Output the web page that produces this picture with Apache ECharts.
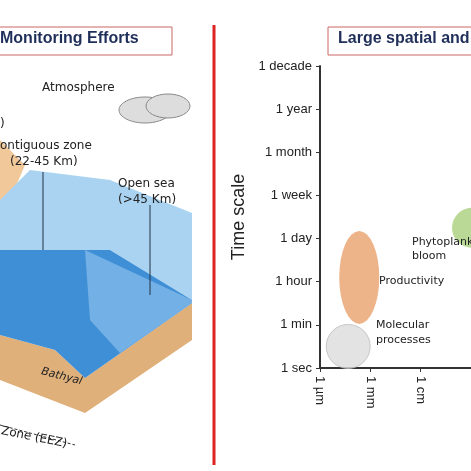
<!DOCTYPE html><html><head><meta charset="utf-8">
<script src="https://cdn.jsdelivr.net/npm/echarts@6/dist/echarts.min.js"></script>
<style>html,body{margin:0;padding:0;background:#fff}#c{width:471px;height:471px}</style></head><body><div id="c"></div>
<script>
const timeLabels = ['1 sec','1 min','1 hour','1 day','1 week','1 month','1 year','1 decade'];
const spaceLabels = ['1 µm','1 mm','1 cm',''];
const processNames = ['Molecular processes','Productivity','Phytoplankton bloom'];
const processX = [0.56, 0.78, 3.02];
const processY = [0.5, 2.1, 3.25];
const processColors = ['#dcdcdc','#e9a06c','#a9cf7d'];
const chart = echarts.init(document.getElementById('c'));
const hand = 'DejaVu Sans';
const T = (l,t,s,f,extra)=>Object.assign({type:'text',left:l,top:t,z:10,style:Object.assign({text:s,font:f,fill:'#222'},extra||{})});
chart.setOption({
  animation:false,
  grid:{left:320,top:66,width:154.5,height:302},
  xAxis:{type:'value',min:0,max:3,interval:1,
    axisLine:{show:true,lineStyle:{color:'#333',width:2}},axisTick:{show:true,length:4,lineStyle:{color:'#333'}},
    splitLine:{show:false},
    axisLabel:{rotate:-90,margin:8,color:'#222',fontSize:13,fontFamily:'Liberation Sans',formatter:v=>spaceLabels[v]||''}},
  yAxis:{type:'value',min:0,max:7,interval:1,name:'Time scale',nameLocation:'middle',nameGap:72,
    nameTextStyle:{fontSize:18,color:'#222',fontFamily:'Liberation Sans'},
    axisLine:{show:true,lineStyle:{color:'#333',width:2}},axisTick:{show:true,length:4,lineStyle:{color:'#333'}},
    splitLine:{show:false},
    axisLabel:{color:'#222',fontSize:13,fontFamily:'Liberation Sans',margin:8,formatter:v=>timeLabels[v]}},
  series:[{type:'scatter',z:3,clip:false,
    data:processNames.map((n,i)=>({value:[processX[i],processY[i]],name:n,
      symbolSize: i===0?[44,44]:(i===1?[40,93]:[40,40]),
      itemStyle:{color:processColors[i],borderColor:i===0?'#bbb':'#fff',borderWidth:i===0?1:0}}))}],
  graphic:[
    {type:'line',shape:{x1:214,y1:25,x2:214,y2:465},style:{stroke:'#d22',lineWidth:3}},
    {type:'rect',z:9,shape:{x:328,y:27,width:160,height:28},style:{fill:'#fff',stroke:'#c66',lineWidth:1}},
    T(338,31,'Large spatial and','bold 16px "Liberation Sans"',{fill:'#1f2f5a'}),
    {type:'rect',z:9,shape:{x:-10,y:27,width:182,height:28},style:{fill:'#fff',stroke:'#c66',lineWidth:1}},
    T(0,31,'Monitoring Efforts','bold 16px "Liberation Sans"',{fill:'#1f2f5a'}),
    {type:'polygon',z:1,shape:{points:[[0,335],[55,350],[85,378],[192,303],[192,340],[85,413],[0,380]]},style:{fill:'#e0b07a'}},
    {type:'polygon',z:1,shape:{points:[[0,140],[25,165],[10,200],[0,205]]},style:{fill:'#f0c89a'}},
    {type:'polygon',z:1,shape:{points:[[0,200],[30,170],[110,180],[192,213],[192,300],[110,250],[0,250]]},style:{fill:'#a9d3f0'}},
    {type:'polygon',z:1,shape:{points:[[0,250],[110,250],[192,300],[192,303],[85,378],[55,350],[0,335]]},style:{fill:'#3f8fd6'}},
    {type:'polygon',z:1,shape:{points:[[85,250],[192,300],[192,303],[120,353],[90,320]]},style:{fill:'#7fb8e8',opacity:0.8}},
    {type:'ellipse',shape:{cx:145,cy:110,rx:26,ry:13},style:{fill:'#ddd',stroke:'#888'}},
    {type:'ellipse',shape:{cx:168,cy:106,rx:22,ry:12},style:{fill:'#ddd',stroke:'#888'}},
    {type:'line',z:2,shape:{x1:43,y1:172,x2:43,y2:250},style:{stroke:'#234',lineWidth:1}},
    {type:'line',z:2,shape:{x1:150,y1:205,x2:150,y2:295},style:{stroke:'#234',lineWidth:1}},
    {type:'line',shape:{x1:0,y1:425,x2:75,y2:445},style:{stroke:'#333',lineWidth:1,lineDash:[3,2]}},
    T(42,82,'Atmosphere','12px "'+hand+'"'),
    T(0,118,')','12px "'+hand+'"'),
    T(0,140,'ontiguous zone','12px "'+hand+'"'),
    T(10,156,'(22-45 Km)','12px "'+hand+'"'),
    T(118,176,'Open sea\n(>45 Km)','12px "'+hand+'"',{lineHeight:16}),
    Object.assign(T(40,366,'Bathyal','italic 11px "'+hand+'"'),{rotation:-0.25}),
    Object.assign(T(0,425,'Zone (EEZ)','12px "'+hand+'"'),{rotation:-0.2}),
    T(412,235,'Phytoplankton\nbloom','11px "'+hand+'"',{lineHeight:14}),
    T(379,276,'Productivity','11px "'+hand+'"'),
    T(376,318,'Molecular\nprocesses','11px "'+hand+'"',{lineHeight:15})
  ]
});
</script></body></html>
